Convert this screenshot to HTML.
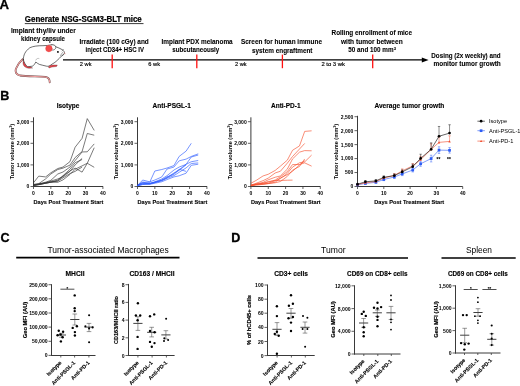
<!DOCTYPE html>
<html><head><meta charset="utf-8"><style>
html,body{margin:0;padding:0;background:#fff;}
svg{display:block;font-family:"Liberation Sans", sans-serif;transform:translateZ(0);will-change:transform;}
</style></head><body>
<svg width="520" height="386" viewBox="0 0 520 386">
<rect width="520" height="386" fill="#fff"/>
<text x="-0.4" y="9.3" font-size="13.2" font-weight="bold" fill="#000" stroke="#000" stroke-width="0.3">A</text>
<text x="24.8" y="22.3" font-size="8.6" font-weight="bold" textLength="117" lengthAdjust="spacingAndGlyphs" fill="#000" stroke="#000" stroke-width="0.22">Generate NSG-SGM3-BLT mice</text>
<line x1="24.8" y1="23.6" x2="143.5" y2="23.6" stroke="#222" stroke-width="0.9"/>
<text x="10.9" y="32.9" font-size="6.6" font-weight="bold" textLength="65" lengthAdjust="spacingAndGlyphs" fill="#000" stroke="#000" stroke-width="0.08">Implant thy/liv under</text>
<text x="21" y="40.6" font-size="6.6" font-weight="bold" textLength="44" lengthAdjust="spacingAndGlyphs" fill="#000" stroke="#000" stroke-width="0.08">kidney capsule</text>
<text x="79.4" y="43.8" font-size="6.6" font-weight="bold" textLength="69.4" lengthAdjust="spacingAndGlyphs" fill="#000" stroke="#000" stroke-width="0.08">Irradiate (100 cGy) and</text>
<text x="85.6" y="52.2" font-size="6.6" font-weight="bold" textLength="58.4" lengthAdjust="spacingAndGlyphs" fill="#000" stroke="#000" stroke-width="0.08">inject CD34+ HSC IV</text>
<text x="161.5" y="43.6" font-size="6.6" font-weight="bold" textLength="71.2" lengthAdjust="spacingAndGlyphs" fill="#000" stroke="#000" stroke-width="0.08">Implant PDX melanoma</text>
<text x="172.2" y="52.3" font-size="6.6" font-weight="bold" textLength="47.1" lengthAdjust="spacingAndGlyphs" fill="#000" stroke="#000" stroke-width="0.08">subcutaneously</text>
<text x="241" y="43.8" font-size="6.6" font-weight="bold" textLength="81" lengthAdjust="spacingAndGlyphs" fill="#000" stroke="#000" stroke-width="0.08">Screen for human immune</text>
<text x="252" y="52.5" font-size="6.6" font-weight="bold" textLength="60.5" lengthAdjust="spacingAndGlyphs" fill="#000" stroke="#000" stroke-width="0.08">system engraftment</text>
<text x="331.5" y="34.5" font-size="6.6" font-weight="bold" textLength="80.5" lengthAdjust="spacingAndGlyphs" fill="#000" stroke="#000" stroke-width="0.08">Rolling enrollment of mice</text>
<text x="341" y="43.6" font-size="6.6" font-weight="bold" textLength="61.7" lengthAdjust="spacingAndGlyphs" fill="#000" stroke="#000" stroke-width="0.08">with tumor between</text>
<text x="348.3" y="51.9" font-size="6.6" font-weight="bold" textLength="45.2" lengthAdjust="spacingAndGlyphs" fill="#000" stroke="#000" stroke-width="0.08">50 and 100 mm</text>
<text x="393.7" y="50.0" font-size="4.2" font-weight="bold" fill="#000" stroke="#000" stroke-width="0.12">3</text>
<text x="431.3" y="57.7" font-size="6.6" font-weight="bold" textLength="69.3" lengthAdjust="spacingAndGlyphs" fill="#000" stroke="#000" stroke-width="0.08">Dosing (2x weekly) and</text>
<text x="433.5" y="66.3" font-size="6.6" font-weight="bold" textLength="67.3" lengthAdjust="spacingAndGlyphs" fill="#000" stroke="#000" stroke-width="0.08">monitor tumor growth</text>
<line x1="63" y1="59.9" x2="425" y2="59.9" stroke="#000" stroke-width="1.2"/>
<path d="M421.8,57.4 L428.6,59.9 L421.8,62.4 Z" fill="#000"/>
<line x1="112.2" y1="54.6" x2="112.2" y2="68.2" stroke="#ff1010" stroke-width="1.3"/>
<line x1="196.8" y1="54.6" x2="196.8" y2="68.2" stroke="#ff1010" stroke-width="1.3"/>
<line x1="282.4" y1="54.6" x2="282.4" y2="68.2" stroke="#ff1010" stroke-width="1.3"/>
<line x1="372.7" y1="54.6" x2="372.7" y2="68.2" stroke="#ff1010" stroke-width="1.3"/>
<text x="85.7" y="66.1" font-size="5.3" text-anchor="middle" textLength="11.7" lengthAdjust="spacingAndGlyphs" fill="#000" stroke="#000" stroke-width="0.15">2 wk</text>
<text x="154.2" y="66.1" font-size="5.3" text-anchor="middle" textLength="11.7" lengthAdjust="spacingAndGlyphs" fill="#000" stroke="#000" stroke-width="0.15">6 wk</text>
<text x="240.8" y="66.1" font-size="5.3" text-anchor="middle" textLength="11.7" lengthAdjust="spacingAndGlyphs" fill="#000" stroke="#000" stroke-width="0.15">2 wk</text>
<text x="333.2" y="65.8" font-size="5.3" text-anchor="middle" textLength="23.5" lengthAdjust="spacingAndGlyphs" fill="#000" stroke="#000" stroke-width="0.15">2 to 3 wk</text>
<g stroke-linejoin="round" stroke-linecap="round">
<path d="M22.7,59.1 C20.5,61 17.5,65 15.8,69 C15,72 16,74.5 20,75.5 C26,76.5 38,76.3 45.4,76.9 C48.5,77.5 49.8,79 49.7,82.3" fill="none" stroke="#6a4a4a" stroke-width="1.8"/>
<path d="M22.7,59.1 C20.5,61 17.5,65 15.8,69 C15,72 16,74.5 20,75.5 C26,76.5 38,76.3 45.4,76.9 C48.5,77.5 49.8,79 49.7,82.3" fill="none" stroke="#f4a0a0" stroke-width="1.05"/>
<path d="M23.3,59.5 C23.5,55 25,51.3 29.9,47.7 C33,46.2 38,45.6 43,45.7 C46,45.8 49,45.2 51.3,44.8 C53.5,45 55,45.8 56,46.8 C58,47.5 60,48.5 62.5,49.8 C63.8,50.8 64.6,52 64.4,53.1 C64,54.5 63,55.3 62,55.5 C60.5,57 58.5,59.5 56.1,61.4 C54.5,62.8 53,63.6 52.5,63.8 L50.1,65.6 C49.5,66.2 47.5,66.4 46.6,66.2 C44,65.6 41.5,65 39.4,64.4 C38,63.8 37,63 35.8,62 C35,63.5 34,65.5 32.3,66.2 L27.5,66.8 C25.5,65 24,62.5 23.3,59.5 Z" fill="#fff" stroke="#111" stroke-width="0.6"/>
<path d="M23.3,60.5 C24,63 25.5,65.5 27.5,66.8 L30.5,67 L32.6,68.1 L29,68.3 C27,68.2 25,67.2 24,66 C23,64.5 22.7,62.5 23.3,60.5 Z" fill="#e8424a" stroke="#3a1a1a" stroke-width="0.3"/>
<path d="M50.1,65.5 L53,65 L57.3,65 L56.5,66.5 L52,67 L49,68 L48.5,67 Z" fill="#e8424a" stroke="#3a1a1a" stroke-width="0.3"/>
<path d="M35.8,60 C36.5,58.5 38,58 39,58.5" fill="none" stroke="#333" stroke-width="0.3"/>
<path d="M51.3,44.8 C53.8,44.5 56,45.5 55.8,47.5 C55.5,49.5 53.5,50.5 52,50" fill="#fff" stroke="#000" stroke-width="0.5"/>
<circle cx="48.9" cy="48.6" r="3.3" fill="#f24c4c" stroke="#e03a3a" stroke-width="0.3"/>
<circle cx="57.9" cy="51.9" r="0.95" fill="#000"/>
<path d="M64.4,53.1 L65.2,53.6" stroke="#d44" stroke-width="0.5"/>
<path d="M60.5,55.5 L62.5,52.5 M61.5,56 L63.5,54.5 M62,51 L63.5,49.5" stroke="#222" stroke-width="0.4"/>
</g>

<text x="0.3" y="99.8" font-size="12.6" font-weight="bold" fill="#000" stroke="#000" stroke-width="0.3">B</text>
<line x1="33.5" y1="117.3" x2="33.5" y2="187.0" stroke="#3a3a3a" stroke-width="1.0"/>
<line x1="33.0" y1="186.5" x2="103.1" y2="186.5" stroke="#3a3a3a" stroke-width="1.0"/>
<line x1="30.5" y1="186.5" x2="33.5" y2="186.5" stroke="#3a3a3a" stroke-width="0.8"/>
<text x="29.3" y="188.4" font-size="5.0" font-weight="bold" text-anchor="end" fill="#000" >0</text>
<line x1="30.5" y1="164.9" x2="33.5" y2="164.9" stroke="#3a3a3a" stroke-width="0.8"/>
<text x="29.3" y="166.8" font-size="5.0" font-weight="bold" text-anchor="end" fill="#000" >1,000</text>
<line x1="30.5" y1="143.3" x2="33.5" y2="143.3" stroke="#3a3a3a" stroke-width="0.8"/>
<text x="29.3" y="145.20000000000002" font-size="5.0" font-weight="bold" text-anchor="end" fill="#000" >2,000</text>
<line x1="30.5" y1="121.69999999999999" x2="33.5" y2="121.69999999999999" stroke="#3a3a3a" stroke-width="0.8"/>
<text x="29.3" y="123.6" font-size="5.0" font-weight="bold" text-anchor="end" fill="#000" >3,000</text>
<line x1="33.5" y1="186.5" x2="33.5" y2="189.0" stroke="#3a3a3a" stroke-width="0.8"/>
<text x="33.5" y="195.1" font-size="5.0" font-weight="bold" text-anchor="middle" fill="#000" >0</text>
<line x1="50.85" y1="186.5" x2="50.85" y2="189.0" stroke="#3a3a3a" stroke-width="0.8"/>
<text x="50.85" y="195.1" font-size="5.0" font-weight="bold" text-anchor="middle" fill="#000" >10</text>
<line x1="68.2" y1="186.5" x2="68.2" y2="189.0" stroke="#3a3a3a" stroke-width="0.8"/>
<text x="68.2" y="195.1" font-size="5.0" font-weight="bold" text-anchor="middle" fill="#000" >20</text>
<line x1="85.55000000000001" y1="186.5" x2="85.55000000000001" y2="189.0" stroke="#3a3a3a" stroke-width="0.8"/>
<text x="85.55000000000001" y="195.1" font-size="5.0" font-weight="bold" text-anchor="middle" fill="#000" >30</text>
<line x1="102.9" y1="186.5" x2="102.9" y2="189.0" stroke="#3a3a3a" stroke-width="0.8"/>
<text x="102.9" y="195.1" font-size="5.0" font-weight="bold" text-anchor="middle" fill="#000" >40</text>
<text x="68.4" y="203.8" font-size="6.1" font-weight="bold" text-anchor="middle" textLength="69.8" lengthAdjust="spacingAndGlyphs" fill="#000" stroke="#000" stroke-width="0.12">Days Post Treatment Start</text>
<text x="68.1" y="108.2" font-size="6.5" font-weight="bold" text-anchor="middle" fill="#000" stroke="#000" stroke-width="0.12">Isotype</text>
<text transform="translate(14.4 151.6) rotate(-90)" font-size="5.3" font-weight="bold" text-anchor="middle" textLength="55.5" lengthAdjust="spacingAndGlyphs">Tumor volume (mm<tspan font-size="3.6" dy="-2">3</tspan><tspan dy="2">)</tspan></text>
<polyline points="33.50,182.83 38.70,176.13 45.65,176.91 50.85,172.78 57.79,168.53 63.00,167.06 69.94,161.66 75.14,147.19 82.08,138.33 87.28,118.61 94.22,130.40" fill="none" stroke="#333" stroke-width="0.65" stroke-linejoin="round"/>
<polyline points="33.50,184.34 38.70,183.69 45.65,178.88 50.85,173.97 57.79,169.52 63.00,168.14 69.94,165.12 75.14,157.56 82.08,151.51 87.28,133.49 94.22,135.20" fill="none" stroke="#333" stroke-width="0.65" stroke-linejoin="round"/>
<polyline points="33.50,184.77 38.70,183.91 45.65,182.18 50.85,180.34 57.79,173.97 63.00,172.01 69.94,167.06 75.14,160.58 82.08,151.94 87.28,151.81 94.22,143.90" fill="none" stroke="#333" stroke-width="0.65" stroke-linejoin="round"/>
<polyline points="33.50,185.20 38.70,184.34 45.65,182.61 50.85,181.86 57.79,180.88 63.00,175.92 69.94,171.01 75.14,168.14 82.08,172.14 87.28,163.30 94.22,147.71" fill="none" stroke="#333" stroke-width="0.65" stroke-linejoin="round"/>
<polyline points="33.50,185.42 38.70,184.56 45.65,183.26 50.85,182.18 57.79,182.31 63.00,179.87 69.94,174.45 75.14,169.22 82.08,165.87 87.28,163.28 94.22,167.30" fill="none" stroke="#333" stroke-width="0.65" stroke-linejoin="round"/>
<polyline points="33.50,184.99 38.70,184.12 45.65,182.83 50.85,181.10 57.79,178.94 63.00,176.78 69.94,171.38 75.14,164.90 82.08,158.42" fill="none" stroke="#333" stroke-width="0.65" stroke-linejoin="round"/>
<polyline points="33.50,185.64 38.70,184.77 45.65,183.26 50.85,182.18 57.79,181.10 63.00,177.86 69.94,173.54 75.14,171.38 82.08,167.06" fill="none" stroke="#333" stroke-width="0.65" stroke-linejoin="round"/>
<polyline points="33.50,185.20 38.70,184.34 45.65,183.26 50.85,182.18 57.79,180.02 63.00,175.70 69.94,169.22 75.14,162.74 82.08,159.50" fill="none" stroke="#333" stroke-width="0.65" stroke-linejoin="round"/>
<line x1="137.5" y1="117.3" x2="137.5" y2="187.0" stroke="#3a3a3a" stroke-width="1.0"/>
<line x1="137.0" y1="186.5" x2="207.1" y2="186.5" stroke="#3a3a3a" stroke-width="1.0"/>
<line x1="134.5" y1="186.5" x2="137.5" y2="186.5" stroke="#3a3a3a" stroke-width="0.8"/>
<text x="133.3" y="188.4" font-size="5.0" font-weight="bold" text-anchor="end" fill="#000" >0</text>
<line x1="134.5" y1="164.9" x2="137.5" y2="164.9" stroke="#3a3a3a" stroke-width="0.8"/>
<text x="133.3" y="166.8" font-size="5.0" font-weight="bold" text-anchor="end" fill="#000" >1,000</text>
<line x1="134.5" y1="143.3" x2="137.5" y2="143.3" stroke="#3a3a3a" stroke-width="0.8"/>
<text x="133.3" y="145.20000000000002" font-size="5.0" font-weight="bold" text-anchor="end" fill="#000" >2,000</text>
<line x1="134.5" y1="121.69999999999999" x2="137.5" y2="121.69999999999999" stroke="#3a3a3a" stroke-width="0.8"/>
<text x="133.3" y="123.6" font-size="5.0" font-weight="bold" text-anchor="end" fill="#000" >3,000</text>
<line x1="137.5" y1="186.5" x2="137.5" y2="189.0" stroke="#3a3a3a" stroke-width="0.8"/>
<text x="137.5" y="195.1" font-size="5.0" font-weight="bold" text-anchor="middle" fill="#000" >0</text>
<line x1="154.85" y1="186.5" x2="154.85" y2="189.0" stroke="#3a3a3a" stroke-width="0.8"/>
<text x="154.85" y="195.1" font-size="5.0" font-weight="bold" text-anchor="middle" fill="#000" >10</text>
<line x1="172.2" y1="186.5" x2="172.2" y2="189.0" stroke="#3a3a3a" stroke-width="0.8"/>
<text x="172.2" y="195.1" font-size="5.0" font-weight="bold" text-anchor="middle" fill="#000" >20</text>
<line x1="189.55" y1="186.5" x2="189.55" y2="189.0" stroke="#3a3a3a" stroke-width="0.8"/>
<text x="189.55" y="195.1" font-size="5.0" font-weight="bold" text-anchor="middle" fill="#000" >30</text>
<line x1="206.9" y1="186.5" x2="206.9" y2="189.0" stroke="#3a3a3a" stroke-width="0.8"/>
<text x="206.9" y="195.1" font-size="5.0" font-weight="bold" text-anchor="middle" fill="#000" >40</text>
<text x="172.4" y="203.8" font-size="6.1" font-weight="bold" text-anchor="middle" textLength="69.8" lengthAdjust="spacingAndGlyphs" fill="#000" stroke="#000" stroke-width="0.12">Days Post Treatment Start</text>
<text x="171.7" y="108.2" font-size="6.5" font-weight="bold" text-anchor="middle" fill="#000" stroke="#000" stroke-width="0.12">Anti-PSGL-1</text>
<text transform="translate(118.4 151.6) rotate(-90)" font-size="5.3" font-weight="bold" text-anchor="middle" textLength="55.5" lengthAdjust="spacingAndGlyphs">Tumor volume (mm<tspan font-size="3.6" dy="-2">3</tspan><tspan dy="2">)</tspan></text>
<polyline points="137.50,185.42 142.71,182.18 149.65,182.33 154.85,170.99 161.79,169.52 167.00,168.03 173.94,165.57 179.14,156.45 186.08,151.14 191.28,143.30" fill="none" stroke="#2f5cff" stroke-width="0.65" stroke-linejoin="round"/>
<polyline points="137.50,185.42 142.71,180.02 149.65,181.83 154.85,180.02 161.79,176.93 167.00,169.05 173.94,167.06 179.14,160.84 186.08,159.11 191.28,156.45 198.22,153.82" fill="none" stroke="#2f5cff" stroke-width="0.65" stroke-linejoin="round"/>
<polyline points="137.50,185.42 142.71,183.26 149.65,183.26 154.85,181.75 161.79,178.94 167.00,175.70 173.94,170.04 179.14,167.06 186.08,164.36 191.28,156.99 198.22,155.05" fill="none" stroke="#2f5cff" stroke-width="0.65" stroke-linejoin="round"/>
<polyline points="137.50,185.64 142.71,183.91 149.65,183.91 154.85,182.61 161.79,180.02 167.00,177.43 173.94,173.00 179.14,169.65 186.08,164.36 191.28,161.72 198.22,160.49" fill="none" stroke="#2f5cff" stroke-width="0.65" stroke-linejoin="round"/>
<polyline points="137.50,185.20 142.71,182.18 149.65,183.69 154.85,182.18 161.79,180.45 167.00,178.29 173.94,175.70 179.14,172.31 186.08,167.90 191.28,163.50 198.22,162.96" fill="none" stroke="#2f5cff" stroke-width="0.65" stroke-linejoin="round"/>
<polyline points="137.50,185.85 142.71,184.34 149.65,184.34 154.85,183.26 161.79,181.75 167.00,179.59 173.94,176.93 179.14,175.81 186.08,173.19 191.28,165.29 198.22,164.25" fill="none" stroke="#2f5cff" stroke-width="0.65" stroke-linejoin="round"/>
<polyline points="137.50,185.42 142.71,183.26 149.65,183.91 154.85,182.61 161.79,180.88 167.00,177.86 173.94,173.54 179.14,170.30 186.08,164.90" fill="none" stroke="#2f5cff" stroke-width="0.65" stroke-linejoin="round"/>
<polyline points="137.50,185.64 142.71,184.56 149.65,183.48 154.85,182.18 161.79,180.02 167.00,176.78 173.94,174.62 179.14,169.22 186.08,171.38" fill="none" stroke="#2f5cff" stroke-width="0.65" stroke-linejoin="round"/>
<line x1="250.9" y1="117.3" x2="250.9" y2="187.0" stroke="#3a3a3a" stroke-width="1.0"/>
<line x1="250.4" y1="186.5" x2="320.5" y2="186.5" stroke="#3a3a3a" stroke-width="1.0"/>
<line x1="247.9" y1="186.5" x2="250.9" y2="186.5" stroke="#3a3a3a" stroke-width="0.8"/>
<text x="246.70000000000002" y="188.4" font-size="5.0" font-weight="bold" text-anchor="end" fill="#000" >0</text>
<line x1="247.9" y1="164.9" x2="250.9" y2="164.9" stroke="#3a3a3a" stroke-width="0.8"/>
<text x="246.70000000000002" y="166.8" font-size="5.0" font-weight="bold" text-anchor="end" fill="#000" >1,000</text>
<line x1="247.9" y1="143.3" x2="250.9" y2="143.3" stroke="#3a3a3a" stroke-width="0.8"/>
<text x="246.70000000000002" y="145.20000000000002" font-size="5.0" font-weight="bold" text-anchor="end" fill="#000" >2,000</text>
<line x1="247.9" y1="121.69999999999999" x2="250.9" y2="121.69999999999999" stroke="#3a3a3a" stroke-width="0.8"/>
<text x="246.70000000000002" y="123.6" font-size="5.0" font-weight="bold" text-anchor="end" fill="#000" >3,000</text>
<line x1="250.9" y1="186.5" x2="250.9" y2="189.0" stroke="#3a3a3a" stroke-width="0.8"/>
<text x="250.9" y="195.1" font-size="5.0" font-weight="bold" text-anchor="middle" fill="#000" >0</text>
<line x1="268.25" y1="186.5" x2="268.25" y2="189.0" stroke="#3a3a3a" stroke-width="0.8"/>
<text x="268.25" y="195.1" font-size="5.0" font-weight="bold" text-anchor="middle" fill="#000" >10</text>
<line x1="285.6" y1="186.5" x2="285.6" y2="189.0" stroke="#3a3a3a" stroke-width="0.8"/>
<text x="285.6" y="195.1" font-size="5.0" font-weight="bold" text-anchor="middle" fill="#000" >20</text>
<line x1="302.95" y1="186.5" x2="302.95" y2="189.0" stroke="#3a3a3a" stroke-width="0.8"/>
<text x="302.95" y="195.1" font-size="5.0" font-weight="bold" text-anchor="middle" fill="#000" >30</text>
<line x1="320.3" y1="186.5" x2="320.3" y2="189.0" stroke="#3a3a3a" stroke-width="0.8"/>
<text x="320.3" y="195.1" font-size="5.0" font-weight="bold" text-anchor="middle" fill="#000" >40</text>
<text x="285.8" y="203.8" font-size="6.1" font-weight="bold" text-anchor="middle" textLength="69.8" lengthAdjust="spacingAndGlyphs" fill="#000" stroke="#000" stroke-width="0.12">Days Post Treatment Start</text>
<text x="285.8" y="108.2" font-size="6.5" font-weight="bold" text-anchor="middle" fill="#000" stroke="#000" stroke-width="0.12">Anti-PD-1</text>
<text transform="translate(231.8 151.6) rotate(-90)" font-size="5.3" font-weight="bold" text-anchor="middle" textLength="55.5" lengthAdjust="spacingAndGlyphs">Tumor volume (mm<tspan font-size="3.6" dy="-2">3</tspan><tspan dy="2">)</tspan></text>
<polyline points="250.90,183.26 256.11,180.45 263.05,175.94 268.25,174.25 275.19,170.41 280.39,166.13 287.34,160.15 292.54,150.28 299.48,145.94 304.69,131.40 311.62,130.82" fill="none" stroke="#f5502e" stroke-width="0.65" stroke-linejoin="round"/>
<polyline points="250.90,185.20 256.11,183.26 263.05,180.67 268.25,178.10 275.19,172.96 280.39,171.25 287.34,163.13 292.54,156.50 299.48,149.05 304.69,143.43" fill="none" stroke="#f5502e" stroke-width="0.65" stroke-linejoin="round"/>
<polyline points="250.90,185.42 256.11,183.91 263.05,182.37 268.25,179.80 275.19,177.23 280.39,175.94 287.34,169.11 292.54,158.94 299.48,152.16 304.69,150.60 311.62,150.80" fill="none" stroke="#f5502e" stroke-width="0.65" stroke-linejoin="round"/>
<polyline points="250.90,185.64 256.11,184.34 263.05,183.22 268.25,181.53 275.19,180.65 280.39,178.53 287.34,173.39 292.54,167.04 299.48,162.74 304.69,161.88 311.62,155.07" fill="none" stroke="#f5502e" stroke-width="0.65" stroke-linejoin="round"/>
<polyline points="250.90,185.42 256.11,184.34 263.05,183.22 268.25,182.18 275.19,180.02 280.39,176.78 287.34,171.60 292.54,164.55 299.48,164.55 304.69,162.85 311.62,166.15" fill="none" stroke="#f5502e" stroke-width="0.65" stroke-linejoin="round"/>
<polyline points="250.90,185.85 256.11,185.20 263.05,184.34 268.25,183.65 275.19,182.78 280.39,181.53 287.34,176.37 292.54,170.15 299.48,166.46 304.69,158.96" fill="none" stroke="#f5502e" stroke-width="0.65" stroke-linejoin="round"/>
<polyline points="250.90,185.42 256.11,184.34 263.05,183.91 268.25,183.26 275.19,180.65 280.39,180.45 287.34,180.21 292.54,180.11" fill="none" stroke="#f5502e" stroke-width="0.65" stroke-linejoin="round"/>
<polyline points="250.90,185.20 256.11,184.56 263.05,184.12 268.25,183.48 275.19,182.18 280.39,178.10 287.34,174.62 292.54,171.38 299.48,164.90 304.69,160.58" fill="none" stroke="#f5502e" stroke-width="0.65" stroke-linejoin="round"/>
<line x1="357.5" y1="115.8" x2="357.5" y2="187.0" stroke="#3a3a3a" stroke-width="1.0"/>
<line x1="357.0" y1="186.5" x2="462.7" y2="186.5" stroke="#3a3a3a" stroke-width="1.0"/>
<line x1="354.5" y1="186.5" x2="357.5" y2="186.5" stroke="#3a3a3a" stroke-width="0.8"/>
<text x="353.3" y="188.4" font-size="5.0" font-weight="bold" text-anchor="end" fill="#000" >0</text>
<line x1="354.5" y1="172.54" x2="357.5" y2="172.54" stroke="#3a3a3a" stroke-width="0.8"/>
<text x="353.3" y="174.44" font-size="5.0" font-weight="bold" text-anchor="end" fill="#000" >500</text>
<line x1="354.5" y1="158.57999999999998" x2="357.5" y2="158.57999999999998" stroke="#3a3a3a" stroke-width="0.8"/>
<text x="353.3" y="160.48" font-size="5.0" font-weight="bold" text-anchor="end" fill="#000" >1,000</text>
<line x1="354.5" y1="144.62" x2="357.5" y2="144.62" stroke="#3a3a3a" stroke-width="0.8"/>
<text x="353.3" y="146.52" font-size="5.0" font-weight="bold" text-anchor="end" fill="#000" >1,500</text>
<line x1="354.5" y1="130.66" x2="357.5" y2="130.66" stroke="#3a3a3a" stroke-width="0.8"/>
<text x="353.3" y="132.56" font-size="5.0" font-weight="bold" text-anchor="end" fill="#000" >2,000</text>
<line x1="354.5" y1="116.7" x2="357.5" y2="116.7" stroke="#3a3a3a" stroke-width="0.8"/>
<text x="353.3" y="118.60000000000001" font-size="5.0" font-weight="bold" text-anchor="end" fill="#000" >2,500</text>
<line x1="357.5" y1="186.5" x2="357.5" y2="189.0" stroke="#3a3a3a" stroke-width="0.8"/>
<text x="357.5" y="195.1" font-size="5.0" font-weight="bold" text-anchor="middle" fill="#000" >0</text>
<line x1="383.8" y1="186.5" x2="383.8" y2="189.0" stroke="#3a3a3a" stroke-width="0.8"/>
<text x="383.8" y="195.1" font-size="5.0" font-weight="bold" text-anchor="middle" fill="#000" >10</text>
<line x1="410.1" y1="186.5" x2="410.1" y2="189.0" stroke="#3a3a3a" stroke-width="0.8"/>
<text x="410.1" y="195.1" font-size="5.0" font-weight="bold" text-anchor="middle" fill="#000" >20</text>
<line x1="436.4" y1="186.5" x2="436.4" y2="189.0" stroke="#3a3a3a" stroke-width="0.8"/>
<text x="436.4" y="195.1" font-size="5.0" font-weight="bold" text-anchor="middle" fill="#000" >30</text>
<line x1="462.7" y1="186.5" x2="462.7" y2="189.0" stroke="#3a3a3a" stroke-width="0.8"/>
<text x="462.7" y="195.1" font-size="5.0" font-weight="bold" text-anchor="middle" fill="#000" >40</text>
<text x="409.2" y="203.8" font-size="6.1" font-weight="bold" text-anchor="middle" textLength="70" lengthAdjust="spacingAndGlyphs" fill="#000" stroke="#000" stroke-width="0.12">Days Post Treatment Start</text>
<text x="409.4" y="107.6" font-size="6.5" font-weight="bold" text-anchor="middle" textLength="70" lengthAdjust="spacingAndGlyphs" fill="#000" stroke="#000" stroke-width="0.12">Average tumor growth</text>
<text transform="translate(338.0 151.6) rotate(-90)" font-size="5.3" font-weight="bold" text-anchor="middle" textLength="55.5" lengthAdjust="spacingAndGlyphs">Tumor volume (mm<tspan font-size="3.6" dy="-2">3</tspan><tspan dy="2">)</tspan></text>
<line x1="357.5" y1="184.8248" x2="357.5" y2="184.2664" stroke="#2d5cf5" stroke-width="0.45"/>
<line x1="356.3" y1="184.2664" x2="358.7" y2="184.2664" stroke="#2d5cf5" stroke-width="0.45"/>
<line x1="357.5" y1="184.8248" x2="357.5" y2="185.3832" stroke="#2d5cf5" stroke-width="0.45"/>
<line x1="356.3" y1="185.3832" x2="358.7" y2="185.3832" stroke="#2d5cf5" stroke-width="0.45"/>
<line x1="365.39" y1="183.4288" x2="365.39" y2="182.5912" stroke="#2d5cf5" stroke-width="0.45"/>
<line x1="364.19" y1="182.5912" x2="366.59" y2="182.5912" stroke="#2d5cf5" stroke-width="0.45"/>
<line x1="365.39" y1="183.4288" x2="365.39" y2="184.2664" stroke="#2d5cf5" stroke-width="0.45"/>
<line x1="364.19" y1="184.2664" x2="366.59" y2="184.2664" stroke="#2d5cf5" stroke-width="0.45"/>
<line x1="375.91" y1="182.312" x2="375.91" y2="181.4744" stroke="#2d5cf5" stroke-width="0.45"/>
<line x1="374.71000000000004" y1="181.4744" x2="377.11" y2="181.4744" stroke="#2d5cf5" stroke-width="0.45"/>
<line x1="375.91" y1="182.312" x2="375.91" y2="183.1496" stroke="#2d5cf5" stroke-width="0.45"/>
<line x1="374.71000000000004" y1="183.1496" x2="377.11" y2="183.1496" stroke="#2d5cf5" stroke-width="0.45"/>
<line x1="383.8" y1="179.52" x2="383.8" y2="178.4032" stroke="#2d5cf5" stroke-width="0.45"/>
<line x1="382.6" y1="178.4032" x2="385.0" y2="178.4032" stroke="#2d5cf5" stroke-width="0.45"/>
<line x1="383.8" y1="179.52" x2="383.8" y2="180.6368" stroke="#2d5cf5" stroke-width="0.45"/>
<line x1="382.6" y1="180.6368" x2="385.0" y2="180.6368" stroke="#2d5cf5" stroke-width="0.45"/>
<line x1="394.32" y1="177.0072" x2="394.32" y2="175.6112" stroke="#2d5cf5" stroke-width="0.45"/>
<line x1="393.12" y1="175.6112" x2="395.52" y2="175.6112" stroke="#2d5cf5" stroke-width="0.45"/>
<line x1="394.32" y1="177.0072" x2="394.32" y2="178.4032" stroke="#2d5cf5" stroke-width="0.45"/>
<line x1="393.12" y1="178.4032" x2="395.52" y2="178.4032" stroke="#2d5cf5" stroke-width="0.45"/>
<line x1="402.21" y1="173.936" x2="402.21" y2="172.2608" stroke="#2d5cf5" stroke-width="0.45"/>
<line x1="401.01" y1="172.2608" x2="403.40999999999997" y2="172.2608" stroke="#2d5cf5" stroke-width="0.45"/>
<line x1="402.21" y1="173.936" x2="402.21" y2="175.6112" stroke="#2d5cf5" stroke-width="0.45"/>
<line x1="401.01" y1="175.6112" x2="403.40999999999997" y2="175.6112" stroke="#2d5cf5" stroke-width="0.45"/>
<line x1="412.73" y1="170.0272" x2="412.73" y2="168.0728" stroke="#2d5cf5" stroke-width="0.45"/>
<line x1="411.53000000000003" y1="168.0728" x2="413.93" y2="168.0728" stroke="#2d5cf5" stroke-width="0.45"/>
<line x1="412.73" y1="170.0272" x2="412.73" y2="171.98160000000001" stroke="#2d5cf5" stroke-width="0.45"/>
<line x1="411.53000000000003" y1="171.98160000000001" x2="413.93" y2="171.98160000000001" stroke="#2d5cf5" stroke-width="0.45"/>
<line x1="420.62" y1="163.80104" x2="420.62" y2="161.28824" stroke="#2d5cf5" stroke-width="0.45"/>
<line x1="419.42" y1="161.28824" x2="421.82" y2="161.28824" stroke="#2d5cf5" stroke-width="0.45"/>
<line x1="420.62" y1="163.80104" x2="420.62" y2="166.31384" stroke="#2d5cf5" stroke-width="0.45"/>
<line x1="419.42" y1="166.31384" x2="421.82" y2="166.31384" stroke="#2d5cf5" stroke-width="0.45"/>
<line x1="431.14" y1="158.57999999999998" x2="431.14" y2="155.2296" stroke="#2d5cf5" stroke-width="0.45"/>
<line x1="429.94" y1="155.2296" x2="432.34" y2="155.2296" stroke="#2d5cf5" stroke-width="0.45"/>
<line x1="431.14" y1="158.57999999999998" x2="431.14" y2="161.9304" stroke="#2d5cf5" stroke-width="0.45"/>
<line x1="429.94" y1="161.9304" x2="432.34" y2="161.9304" stroke="#2d5cf5" stroke-width="0.45"/>
<line x1="439.03" y1="150.12024" x2="439.03" y2="146.76984" stroke="#2d5cf5" stroke-width="0.45"/>
<line x1="437.83" y1="146.76984" x2="440.22999999999996" y2="146.76984" stroke="#2d5cf5" stroke-width="0.45"/>
<line x1="439.03" y1="150.12024" x2="439.03" y2="153.47064" stroke="#2d5cf5" stroke-width="0.45"/>
<line x1="437.83" y1="153.47064" x2="440.22999999999996" y2="153.47064" stroke="#2d5cf5" stroke-width="0.45"/>
<line x1="449.55" y1="150.31568" x2="449.55" y2="147.52368" stroke="#2d5cf5" stroke-width="0.45"/>
<line x1="448.35" y1="147.52368" x2="450.75" y2="147.52368" stroke="#2d5cf5" stroke-width="0.45"/>
<line x1="449.55" y1="150.31568" x2="449.55" y2="153.10768000000002" stroke="#2d5cf5" stroke-width="0.45"/>
<line x1="448.35" y1="153.10768000000002" x2="450.75" y2="153.10768000000002" stroke="#2d5cf5" stroke-width="0.45"/>
<polyline points="357.50,184.82 365.39,183.43 375.91,182.31 383.80,179.52 394.32,177.01 402.21,173.94 412.73,170.03 420.62,163.80 431.14,158.58 439.03,150.12 449.55,150.32" fill="none" stroke="#2d5cf5" stroke-width="0.6"/>
<rect x="356.15" y="183.47" width="2.7" height="2.7" fill="#2d5cf5"/>
<rect x="364.04" y="182.08" width="2.7" height="2.7" fill="#2d5cf5"/>
<rect x="374.56" y="180.96" width="2.7" height="2.7" fill="#2d5cf5"/>
<rect x="382.45" y="178.17" width="2.7" height="2.7" fill="#2d5cf5"/>
<rect x="392.97" y="175.66" width="2.7" height="2.7" fill="#2d5cf5"/>
<rect x="400.86" y="172.59" width="2.7" height="2.7" fill="#2d5cf5"/>
<rect x="411.38" y="168.68" width="2.7" height="2.7" fill="#2d5cf5"/>
<rect x="419.27" y="162.45" width="2.7" height="2.7" fill="#2d5cf5"/>
<rect x="429.79" y="157.23" width="2.7" height="2.7" fill="#2d5cf5"/>
<rect x="437.68" y="148.77" width="2.7" height="2.7" fill="#2d5cf5"/>
<rect x="448.20" y="148.97" width="2.7" height="2.7" fill="#2d5cf5"/>
<line x1="357.5" y1="184.5456" x2="357.5" y2="183.9872" stroke="#f04a2a" stroke-width="0.45"/>
<line x1="356.3" y1="183.9872" x2="358.7" y2="183.9872" stroke="#f04a2a" stroke-width="0.45"/>
<line x1="365.39" y1="182.8704" x2="365.39" y2="182.0328" stroke="#f04a2a" stroke-width="0.45"/>
<line x1="364.19" y1="182.0328" x2="366.59" y2="182.0328" stroke="#f04a2a" stroke-width="0.45"/>
<line x1="375.91" y1="181.4744" x2="375.91" y2="180.6368" stroke="#f04a2a" stroke-width="0.45"/>
<line x1="374.71000000000004" y1="180.6368" x2="377.11" y2="180.6368" stroke="#f04a2a" stroke-width="0.45"/>
<line x1="383.8" y1="178.124" x2="383.8" y2="177.0072" stroke="#f04a2a" stroke-width="0.45"/>
<line x1="382.6" y1="177.0072" x2="385.0" y2="177.0072" stroke="#f04a2a" stroke-width="0.45"/>
<line x1="394.32" y1="175.332" x2="394.32" y2="173.6568" stroke="#f04a2a" stroke-width="0.45"/>
<line x1="393.12" y1="173.6568" x2="395.52" y2="173.6568" stroke="#f04a2a" stroke-width="0.45"/>
<line x1="402.21" y1="170.8648" x2="402.21" y2="168.9104" stroke="#f04a2a" stroke-width="0.45"/>
<line x1="401.01" y1="168.9104" x2="403.40999999999997" y2="168.9104" stroke="#f04a2a" stroke-width="0.45"/>
<line x1="412.73" y1="165.8392" x2="412.73" y2="163.6056" stroke="#f04a2a" stroke-width="0.45"/>
<line x1="411.53000000000003" y1="163.6056" x2="413.93" y2="163.6056" stroke="#f04a2a" stroke-width="0.45"/>
<line x1="420.62" y1="159.6968" x2="420.62" y2="156.3464" stroke="#f04a2a" stroke-width="0.45"/>
<line x1="419.42" y1="156.3464" x2="421.82" y2="156.3464" stroke="#f04a2a" stroke-width="0.45"/>
<line x1="431.14" y1="149.3664" x2="431.14" y2="143.7824" stroke="#f04a2a" stroke-width="0.45"/>
<line x1="429.94" y1="143.7824" x2="432.34" y2="143.7824" stroke="#f04a2a" stroke-width="0.45"/>
<line x1="439.03" y1="142.3864" x2="439.03" y2="136.8024" stroke="#f04a2a" stroke-width="0.45"/>
<line x1="437.83" y1="136.8024" x2="440.22999999999996" y2="136.8024" stroke="#f04a2a" stroke-width="0.45"/>
<line x1="449.55" y1="141.4092" x2="449.55" y2="135.8252" stroke="#f04a2a" stroke-width="0.45"/>
<line x1="448.35" y1="135.8252" x2="450.75" y2="135.8252" stroke="#f04a2a" stroke-width="0.45"/>
<polyline points="357.50,184.55 365.39,182.87 375.91,181.47 383.80,178.12 394.32,175.33 402.21,170.86 412.73,165.84 420.62,159.70 431.14,149.37 439.03,142.39 449.55,141.41" fill="none" stroke="#f04a2a" stroke-width="0.6"/>
<path d="M356.30,185.55 L357.50,183.35 L358.70,185.55 Z" fill="#f04a2a"/>
<path d="M364.19,183.87 L365.39,181.67 L366.59,183.87 Z" fill="#f04a2a"/>
<path d="M374.71,182.47 L375.91,180.27 L377.11,182.47 Z" fill="#f04a2a"/>
<path d="M382.60,179.12 L383.80,176.92 L385.00,179.12 Z" fill="#f04a2a"/>
<path d="M393.12,176.33 L394.32,174.13 L395.52,176.33 Z" fill="#f04a2a"/>
<path d="M401.01,171.86 L402.21,169.66 L403.41,171.86 Z" fill="#f04a2a"/>
<path d="M411.53,166.84 L412.73,164.64 L413.93,166.84 Z" fill="#f04a2a"/>
<path d="M419.42,160.70 L420.62,158.50 L421.82,160.70 Z" fill="#f04a2a"/>
<path d="M429.94,150.37 L431.14,148.17 L432.34,150.37 Z" fill="#f04a2a"/>
<path d="M437.83,143.39 L439.03,141.19 L440.23,143.39 Z" fill="#f04a2a"/>
<path d="M448.35,142.41 L449.55,140.21 L450.75,142.41 Z" fill="#f04a2a"/>
<line x1="357.5" y1="184.2664" x2="357.5" y2="183.4288" stroke="#000" stroke-width="0.45"/>
<line x1="356.3" y1="183.4288" x2="358.7" y2="183.4288" stroke="#000" stroke-width="0.45"/>
<line x1="365.39" y1="181.7536" x2="365.39" y2="180.6368" stroke="#000" stroke-width="0.45"/>
<line x1="364.19" y1="180.6368" x2="366.59" y2="180.6368" stroke="#000" stroke-width="0.45"/>
<line x1="375.91" y1="180.916" x2="375.91" y2="179.7992" stroke="#000" stroke-width="0.45"/>
<line x1="374.71000000000004" y1="179.7992" x2="377.11" y2="179.7992" stroke="#000" stroke-width="0.45"/>
<line x1="383.8" y1="177.28640000000001" x2="383.8" y2="175.8904" stroke="#000" stroke-width="0.45"/>
<line x1="382.6" y1="175.8904" x2="385.0" y2="175.8904" stroke="#000" stroke-width="0.45"/>
<line x1="394.32" y1="175.6112" x2="394.32" y2="173.936" stroke="#000" stroke-width="0.45"/>
<line x1="393.12" y1="173.936" x2="395.52" y2="173.936" stroke="#000" stroke-width="0.45"/>
<line x1="402.21" y1="171.89784" x2="402.21" y2="169.94344" stroke="#000" stroke-width="0.45"/>
<line x1="401.01" y1="169.94344" x2="403.40999999999997" y2="169.94344" stroke="#000" stroke-width="0.45"/>
<line x1="412.73" y1="166.67680000000001" x2="412.73" y2="164.164" stroke="#000" stroke-width="0.45"/>
<line x1="411.53000000000003" y1="164.164" x2="413.93" y2="164.164" stroke="#000" stroke-width="0.45"/>
<line x1="420.62" y1="158.41248" x2="420.62" y2="154.22448" stroke="#000" stroke-width="0.45"/>
<line x1="419.42" y1="154.22448" x2="421.82" y2="154.22448" stroke="#000" stroke-width="0.45"/>
<line x1="431.14" y1="149.31056" x2="431.14" y2="142.88896" stroke="#000" stroke-width="0.45"/>
<line x1="429.94" y1="142.88896" x2="432.34" y2="142.88896" stroke="#000" stroke-width="0.45"/>
<line x1="439.03" y1="136.244" x2="439.03" y2="126.47200000000001" stroke="#000" stroke-width="0.45"/>
<line x1="437.83" y1="126.47200000000001" x2="440.22999999999996" y2="126.47200000000001" stroke="#000" stroke-width="0.45"/>
<line x1="449.55" y1="133.11696" x2="449.55" y2="124.74096" stroke="#000" stroke-width="0.45"/>
<line x1="448.35" y1="124.74096" x2="450.75" y2="124.74096" stroke="#000" stroke-width="0.45"/>
<polyline points="357.50,184.27 365.39,181.75 375.91,180.92 383.80,177.29 394.32,175.61 402.21,171.90 412.73,166.68 420.62,158.41 431.14,149.31 439.03,136.24 449.55,133.12" fill="none" stroke="#000" stroke-width="0.6"/>
<circle cx="357.50" cy="184.27" r="1.35" fill="#000"/>
<circle cx="365.39" cy="181.75" r="1.35" fill="#000"/>
<circle cx="375.91" cy="180.92" r="1.35" fill="#000"/>
<circle cx="383.80" cy="177.29" r="1.35" fill="#000"/>
<circle cx="394.32" cy="175.61" r="1.35" fill="#000"/>
<circle cx="402.21" cy="171.90" r="1.35" fill="#000"/>
<circle cx="412.73" cy="166.68" r="1.35" fill="#000"/>
<circle cx="420.62" cy="158.41" r="1.35" fill="#000"/>
<circle cx="431.14" cy="149.31" r="1.35" fill="#000"/>
<circle cx="439.03" cy="136.24" r="1.35" fill="#000"/>
<circle cx="449.55" cy="133.12" r="1.35" fill="#000"/>
<text x="438.4" y="161.0" font-size="4.6" font-weight="bold" text-anchor="middle" fill="#000" stroke="#000" stroke-width="0.12">**</text>
<text x="448.9" y="161.0" font-size="4.6" font-weight="bold" text-anchor="middle" fill="#000" stroke="#000" stroke-width="0.12">**</text>
<line x1="477.4" y1="121.2" x2="484.9" y2="121.2" stroke="#000" stroke-width="0.6"/>
<circle cx="481.1" cy="121.2" r="1.35" fill="#000"/>
<text x="489" y="123.10000000000001" font-size="5.6" fill="#000">Isotype</text>
<line x1="477.4" y1="130.7" x2="484.9" y2="130.7" stroke="#2d5cf5" stroke-width="0.6"/>
<rect x="479.75" y="129.35" width="2.7" height="2.7" fill="#2d5cf5"/>
<text x="489" y="132.6" font-size="5.6" fill="#000">Anti-PSGL-1</text>
<line x1="477.4" y1="141.1" x2="484.9" y2="141.1" stroke="#f04a2a" stroke-width="0.6"/>
<path d="M478.8,142.1 L480,139.9 L481.2,142.1 Z" fill="#f04a2a" transform="translate(1.1 0)"/>
<text x="489" y="143.0" font-size="5.6" fill="#000">Anti-PD-1</text>
<text x="0.5" y="241.8" font-size="12.6" font-weight="bold" fill="#000" stroke="#000" stroke-width="0.3">C</text>
<text x="231.3" y="241.8" font-size="12.6" font-weight="bold" fill="#000" stroke="#000" stroke-width="0.3">D</text>
<text x="47.5" y="252.6" font-size="8.6" textLength="121.3" lengthAdjust="spacingAndGlyphs" fill="#000">Tumor-associated Macrophages</text>
<line x1="16.2" y1="257.6" x2="179.5" y2="257.6" stroke="#000" stroke-width="1.6"/>
<text x="333.3" y="252.6" font-size="8.6" text-anchor="middle" textLength="24.5" lengthAdjust="spacingAndGlyphs" fill="#000">Tumor</text>
<line x1="257.5" y1="258" x2="408" y2="258" stroke="#000" stroke-width="1.6"/>
<text x="479" y="252.6" font-size="8.6" text-anchor="middle" textLength="26" lengthAdjust="spacingAndGlyphs" fill="#000">Spleen</text>
<line x1="441.5" y1="258" x2="515.7" y2="258" stroke="#000" stroke-width="1.6"/>
<line x1="51.5" y1="284.2" x2="51.5" y2="356.0" stroke="#3a3a3a" stroke-width="1.0"/>
<line x1="51.0" y1="355.5" x2="95.5" y2="355.5" stroke="#3a3a3a" stroke-width="1.0"/>
<line x1="48.5" y1="355.4" x2="51.5" y2="355.4" stroke="#3a3a3a" stroke-width="0.8"/>
<text x="47.6" y="357.4" font-size="5.1" font-weight="bold" text-anchor="end" fill="#000" >0</text>
<line x1="48.5" y1="341.3" x2="51.5" y2="341.3" stroke="#3a3a3a" stroke-width="0.8"/>
<text x="47.6" y="343.3" font-size="5.1" font-weight="bold" text-anchor="end" fill="#000" >50,000</text>
<line x1="48.5" y1="327.1" x2="51.5" y2="327.1" stroke="#3a3a3a" stroke-width="0.8"/>
<text x="47.6" y="329.1" font-size="5.1" font-weight="bold" text-anchor="end" fill="#000" >100,000</text>
<line x1="48.5" y1="313.0" x2="51.5" y2="313.0" stroke="#3a3a3a" stroke-width="0.8"/>
<text x="47.6" y="315.0" font-size="5.1" font-weight="bold" text-anchor="end" fill="#000" >150,000</text>
<line x1="48.5" y1="298.8" x2="51.5" y2="298.8" stroke="#3a3a3a" stroke-width="0.8"/>
<text x="47.6" y="300.8" font-size="5.1" font-weight="bold" text-anchor="end" fill="#000" >200,000</text>
<line x1="48.5" y1="284.7" x2="51.5" y2="284.7" stroke="#3a3a3a" stroke-width="0.8"/>
<text x="47.6" y="286.7" font-size="5.1" font-weight="bold" text-anchor="end" fill="#000" >250,000</text>
<line x1="60.8" y1="355.5" x2="60.8" y2="357.5" stroke="#3a3a3a" stroke-width="0.8"/>
<text transform="translate(61.9 363.1) rotate(-45)" font-size="5.3" font-weight="bold" text-anchor="end" stroke="#000" stroke-width="0.12">Isotype</text>
<line x1="74.6" y1="355.5" x2="74.6" y2="357.5" stroke="#3a3a3a" stroke-width="0.8"/>
<text transform="translate(75.69999999999999 363.1) rotate(-45)" font-size="5.3" font-weight="bold" text-anchor="end" stroke="#000" stroke-width="0.12">Anti-PSGL-1</text>
<line x1="88.9" y1="355.5" x2="88.9" y2="357.5" stroke="#3a3a3a" stroke-width="0.8"/>
<text transform="translate(90.0 363.1) rotate(-45)" font-size="5.3" font-weight="bold" text-anchor="end" stroke="#000" stroke-width="0.12">Anti-PD-1</text>
<text x="75" y="275.7" font-size="6.5" font-weight="bold" text-anchor="middle" textLength="19" lengthAdjust="spacingAndGlyphs" fill="#000" stroke="#000" stroke-width="0.12">MHCII</text>
<text transform="translate(27.0 320) rotate(-90)" font-size="5.5" font-weight="bold" text-anchor="middle" textLength="36.5" lengthAdjust="spacingAndGlyphs" stroke="#000" stroke-width="0.16">Geo MFI (AU)</text>
<line x1="56.8" y1="335.0" x2="66.0" y2="335.0" stroke="#000" stroke-width="0.75"/>
<line x1="61.4" y1="333.3" x2="61.4" y2="337.2" stroke="#444" stroke-width="0.55"/>
<line x1="59.1" y1="333.3" x2="63.699999999999996" y2="333.3" stroke="#444" stroke-width="0.55"/>
<line x1="59.1" y1="337.2" x2="63.699999999999996" y2="337.2" stroke="#444" stroke-width="0.55"/>
<circle cx="58.75" cy="330.8" r="1.2" fill="#000"/>
<circle cx="63.1" cy="331.8" r="1.2" fill="#000"/>
<circle cx="57.6" cy="335.2" r="1.2" fill="#000"/>
<circle cx="62.6" cy="337.2" r="1.2" fill="#000"/>
<circle cx="60.9" cy="341.4" r="1.2" fill="#000"/>
<circle cx="60.5" cy="334.5" r="1.2" fill="#000"/>
<line x1="70.2" y1="319.5" x2="79.39999999999999" y2="319.5" stroke="#000" stroke-width="0.75"/>
<line x1="74.8" y1="314.0" x2="74.8" y2="325.0" stroke="#444" stroke-width="0.55"/>
<line x1="72.5" y1="314.0" x2="77.1" y2="314.0" stroke="#444" stroke-width="0.55"/>
<line x1="72.5" y1="325.0" x2="77.1" y2="325.0" stroke="#444" stroke-width="0.55"/>
<circle cx="74.7" cy="295.4" r="1.2" fill="#000"/>
<circle cx="74.7" cy="308.2" r="1.2" fill="#000"/>
<circle cx="74.7" cy="311.1" r="1.2" fill="#000"/>
<circle cx="72.7" cy="327.9" r="1.2" fill="#000"/>
<circle cx="76.9" cy="326.2" r="1.2" fill="#000"/>
<circle cx="74.9" cy="332.1" r="1.2" fill="#000"/>
<circle cx="74.9" cy="335.5" r="1.2" fill="#000"/>
<line x1="84.4" y1="327.1" x2="93.6" y2="327.1" stroke="#000" stroke-width="0.75"/>
<line x1="89.0" y1="323.4" x2="89.0" y2="331.6" stroke="#444" stroke-width="0.55"/>
<line x1="86.7" y1="323.4" x2="91.3" y2="323.4" stroke="#444" stroke-width="0.55"/>
<line x1="86.7" y1="331.6" x2="91.3" y2="331.6" stroke="#444" stroke-width="0.55"/>
<circle cx="89.1" cy="315.3" r="1.05" fill="#000"/>
<circle cx="85.4" cy="326.2" r="1.05" fill="#000"/>
<circle cx="92.6" cy="327.4" r="1.05" fill="#000"/>
<circle cx="89.1" cy="328.4" r="1.05" fill="#000"/>
<circle cx="89.1" cy="342.2" r="1.05" fill="#000"/>
<line x1="60.4" y1="289.2" x2="74.4" y2="289.2" stroke="#000" stroke-width="0.7"/>
<text x="67.4" y="289.5" font-size="4.2" font-weight="bold" text-anchor="middle" fill="#000" stroke="#000" stroke-width="0.12">*</text>
<line x1="128.5" y1="283.9" x2="128.5" y2="356.0" stroke="#3a3a3a" stroke-width="1.0"/>
<line x1="128.0" y1="355.5" x2="174.6" y2="355.5" stroke="#3a3a3a" stroke-width="1.0"/>
<line x1="125.5" y1="355.5" x2="128.5" y2="355.5" stroke="#3a3a3a" stroke-width="0.8"/>
<text x="124.6" y="357.5" font-size="5.1" font-weight="bold" text-anchor="end" fill="#000" >0</text>
<line x1="125.5" y1="337.8" x2="128.5" y2="337.8" stroke="#3a3a3a" stroke-width="0.8"/>
<text x="124.6" y="339.8" font-size="5.1" font-weight="bold" text-anchor="end" fill="#000" >2</text>
<line x1="125.5" y1="320.1" x2="128.5" y2="320.1" stroke="#3a3a3a" stroke-width="0.8"/>
<text x="124.6" y="322.1" font-size="5.1" font-weight="bold" text-anchor="end" fill="#000" >4</text>
<line x1="125.5" y1="302.4" x2="128.5" y2="302.4" stroke="#3a3a3a" stroke-width="0.8"/>
<text x="124.6" y="304.4" font-size="5.1" font-weight="bold" text-anchor="end" fill="#000" >6</text>
<line x1="125.5" y1="284.7" x2="128.5" y2="284.7" stroke="#3a3a3a" stroke-width="0.8"/>
<text x="124.6" y="286.7" font-size="5.1" font-weight="bold" text-anchor="end" fill="#000" >8</text>
<line x1="137.9" y1="355.5" x2="137.9" y2="357.5" stroke="#3a3a3a" stroke-width="0.8"/>
<text transform="translate(139.0 363.1) rotate(-45)" font-size="5.3" font-weight="bold" text-anchor="end" stroke="#000" stroke-width="0.12">Isotype</text>
<line x1="152.1" y1="355.5" x2="152.1" y2="357.5" stroke="#3a3a3a" stroke-width="0.8"/>
<text transform="translate(153.2 363.1) rotate(-45)" font-size="5.3" font-weight="bold" text-anchor="end" stroke="#000" stroke-width="0.12">Anti-PSGL-1</text>
<line x1="166.4" y1="355.5" x2="166.4" y2="357.5" stroke="#3a3a3a" stroke-width="0.8"/>
<text transform="translate(167.5 363.1) rotate(-45)" font-size="5.3" font-weight="bold" text-anchor="end" stroke="#000" stroke-width="0.12">Anti-PD-1</text>
<text x="152" y="275.7" font-size="6.5" font-weight="bold" text-anchor="middle" textLength="45" lengthAdjust="spacingAndGlyphs" fill="#000" stroke="#000" stroke-width="0.12">CD163 / MHCII</text>
<text transform="translate(118.39999999999999 320) rotate(-90)" font-size="5.5" font-weight="bold" text-anchor="middle" textLength="48" lengthAdjust="spacingAndGlyphs" stroke="#000" stroke-width="0.16">CD163/MHCII ratio</text>
<line x1="133.3" y1="323.4" x2="142.5" y2="323.4" stroke="#000" stroke-width="0.75"/>
<line x1="137.9" y1="316.7" x2="137.9" y2="330.4" stroke="#444" stroke-width="0.55"/>
<line x1="135.6" y1="316.7" x2="140.20000000000002" y2="316.7" stroke="#444" stroke-width="0.55"/>
<line x1="135.6" y1="330.4" x2="140.20000000000002" y2="330.4" stroke="#444" stroke-width="0.55"/>
<circle cx="137.9" cy="303.2" r="1.2" fill="#000"/>
<circle cx="135.9" cy="315.5" r="1.2" fill="#000"/>
<circle cx="140.2" cy="315.5" r="1.2" fill="#000"/>
<circle cx="137.6" cy="320.2" r="1.2" fill="#000"/>
<circle cx="137.6" cy="336.9" r="1.2" fill="#000"/>
<circle cx="137.6" cy="348.9" r="1.2" fill="#000"/>
<line x1="147.1" y1="332.3" x2="156.29999999999998" y2="332.3" stroke="#000" stroke-width="0.75"/>
<line x1="151.7" y1="327.3" x2="151.7" y2="336.9" stroke="#444" stroke-width="0.55"/>
<line x1="149.39999999999998" y1="327.3" x2="154.0" y2="327.3" stroke="#444" stroke-width="0.55"/>
<line x1="149.39999999999998" y1="336.9" x2="154.0" y2="336.9" stroke="#444" stroke-width="0.55"/>
<circle cx="150" cy="316.3" r="1.2" fill="#000"/>
<circle cx="154.2" cy="314.4" r="1.2" fill="#000"/>
<circle cx="150" cy="331" r="1.2" fill="#000"/>
<circle cx="154.6" cy="332.3" r="1.2" fill="#000"/>
<circle cx="150" cy="341.9" r="1.2" fill="#000"/>
<circle cx="154.5" cy="343.1" r="1.2" fill="#000"/>
<circle cx="151.8" cy="346.7" r="1.2" fill="#000"/>
<line x1="161.3" y1="334.9" x2="170.5" y2="334.9" stroke="#000" stroke-width="0.75"/>
<line x1="165.9" y1="330.7" x2="165.9" y2="339.0" stroke="#444" stroke-width="0.55"/>
<line x1="163.6" y1="330.7" x2="168.20000000000002" y2="330.7" stroke="#444" stroke-width="0.55"/>
<line x1="163.6" y1="339.0" x2="168.20000000000002" y2="339.0" stroke="#444" stroke-width="0.55"/>
<circle cx="166.1" cy="318.8" r="1.0" fill="#000"/>
<circle cx="164.3" cy="338.2" r="1.0" fill="#000"/>
<circle cx="168.1" cy="340" r="1.0" fill="#000"/>
<circle cx="164" cy="341.1" r="1.0" fill="#000"/>
<line x1="267.5" y1="284.5" x2="267.5" y2="356.0" stroke="#3a3a3a" stroke-width="1.0"/>
<line x1="267.0" y1="355.5" x2="314.7" y2="355.5" stroke="#3a3a3a" stroke-width="1.0"/>
<line x1="264.5" y1="355.6" x2="267.5" y2="355.6" stroke="#3a3a3a" stroke-width="0.8"/>
<text x="263.6" y="357.6" font-size="5.1" font-weight="bold" text-anchor="end" fill="#000" >0</text>
<line x1="264.5" y1="341.5" x2="267.5" y2="341.5" stroke="#3a3a3a" stroke-width="0.8"/>
<text x="263.6" y="343.5" font-size="5.1" font-weight="bold" text-anchor="end" fill="#000" >20</text>
<line x1="264.5" y1="327.4" x2="267.5" y2="327.4" stroke="#3a3a3a" stroke-width="0.8"/>
<text x="263.6" y="329.4" font-size="5.1" font-weight="bold" text-anchor="end" fill="#000" >40</text>
<line x1="264.5" y1="313.2" x2="267.5" y2="313.2" stroke="#3a3a3a" stroke-width="0.8"/>
<text x="263.6" y="315.2" font-size="5.1" font-weight="bold" text-anchor="end" fill="#000" >60</text>
<line x1="264.5" y1="299.2" x2="267.5" y2="299.2" stroke="#3a3a3a" stroke-width="0.8"/>
<text x="263.6" y="301.2" font-size="5.1" font-weight="bold" text-anchor="end" fill="#000" >80</text>
<line x1="264.5" y1="285.0" x2="267.5" y2="285.0" stroke="#3a3a3a" stroke-width="0.8"/>
<text x="263.6" y="287.0" font-size="5.1" font-weight="bold" text-anchor="end" fill="#000" >100</text>
<line x1="277.1" y1="355.5" x2="277.1" y2="357.5" stroke="#3a3a3a" stroke-width="0.8"/>
<text transform="translate(278.20000000000005 363.1) rotate(-45)" font-size="5.3" font-weight="bold" text-anchor="end" stroke="#000" stroke-width="0.12">Isotype</text>
<line x1="291.4" y1="355.5" x2="291.4" y2="357.5" stroke="#3a3a3a" stroke-width="0.8"/>
<text transform="translate(292.5 363.1) rotate(-45)" font-size="5.3" font-weight="bold" text-anchor="end" stroke="#000" stroke-width="0.12">Anti-PSGL-1</text>
<line x1="305.3" y1="355.5" x2="305.3" y2="357.5" stroke="#3a3a3a" stroke-width="0.8"/>
<text transform="translate(306.40000000000003 363.1) rotate(-45)" font-size="5.3" font-weight="bold" text-anchor="end" stroke="#000" stroke-width="0.12">Anti-PD-1</text>
<text x="291.1" y="275.7" font-size="6.5" font-weight="bold" text-anchor="middle" textLength="33.8" lengthAdjust="spacingAndGlyphs" fill="#000" stroke="#000" stroke-width="0.12">CD3+ cells</text>
<text transform="translate(251.1 320) rotate(-90)" font-size="5.5" font-weight="bold" text-anchor="middle" textLength="50" lengthAdjust="spacingAndGlyphs" stroke="#000" stroke-width="0.16">% of hCD45+ cells</text>
<line x1="272.4" y1="329.3" x2="281.6" y2="329.3" stroke="#000" stroke-width="0.75"/>
<line x1="277.0" y1="322.6" x2="277.0" y2="335.4" stroke="#444" stroke-width="0.55"/>
<line x1="274.7" y1="322.6" x2="279.3" y2="322.6" stroke="#444" stroke-width="0.55"/>
<line x1="274.7" y1="335.4" x2="279.3" y2="335.4" stroke="#444" stroke-width="0.55"/>
<circle cx="276.9" cy="306.2" r="1.2" fill="#000"/>
<circle cx="276.9" cy="316.1" r="1.2" fill="#000"/>
<circle cx="276.9" cy="331.7" r="1.2" fill="#000"/>
<circle cx="274.8" cy="334" r="1.2" fill="#000"/>
<circle cx="278.7" cy="335.8" r="1.2" fill="#000"/>
<circle cx="276.9" cy="353.7" r="1.2" fill="#000"/>
<line x1="286.4" y1="313.2" x2="295.6" y2="313.2" stroke="#000" stroke-width="0.75"/>
<line x1="291.0" y1="308.5" x2="291.0" y2="318.2" stroke="#444" stroke-width="0.55"/>
<line x1="288.7" y1="308.5" x2="293.3" y2="308.5" stroke="#444" stroke-width="0.55"/>
<line x1="288.7" y1="318.2" x2="293.3" y2="318.2" stroke="#444" stroke-width="0.55"/>
<circle cx="291" cy="295.3" r="1.2" fill="#000"/>
<circle cx="288.9" cy="305.8" r="1.2" fill="#000"/>
<circle cx="292.9" cy="303.7" r="1.2" fill="#000"/>
<circle cx="288.5" cy="318.2" r="1.2" fill="#000"/>
<circle cx="292.9" cy="316.9" r="1.2" fill="#000"/>
<circle cx="291" cy="322.6" r="1.2" fill="#000"/>
<circle cx="291" cy="331" r="1.2" fill="#000"/>
<line x1="300.4" y1="327.3" x2="309.6" y2="327.3" stroke="#000" stroke-width="0.75"/>
<line x1="305.0" y1="322.0" x2="305.0" y2="333.1" stroke="#444" stroke-width="0.55"/>
<line x1="302.7" y1="322.0" x2="307.3" y2="322.0" stroke="#444" stroke-width="0.55"/>
<line x1="302.7" y1="333.1" x2="307.3" y2="333.1" stroke="#444" stroke-width="0.55"/>
<circle cx="303" cy="316.1" r="1.0" fill="#000"/>
<circle cx="307.4" cy="317.8" r="1.0" fill="#000"/>
<circle cx="302.6" cy="329.1" r="1.0" fill="#000"/>
<circle cx="307.4" cy="329.1" r="1.0" fill="#000"/>
<circle cx="305.1" cy="346.7" r="1.0" fill="#000"/>
<line x1="354.5" y1="285.3" x2="354.5" y2="354.5" stroke="#3a3a3a" stroke-width="1.0"/>
<line x1="354.0" y1="354.0" x2="400.5" y2="354.0" stroke="#3a3a3a" stroke-width="1.0"/>
<line x1="351.5" y1="354.0" x2="354.5" y2="354.0" stroke="#3a3a3a" stroke-width="0.8"/>
<text x="350.6" y="356.0" font-size="5.1" font-weight="bold" text-anchor="end" fill="#000" >0</text>
<line x1="351.5" y1="331.3" x2="354.5" y2="331.3" stroke="#3a3a3a" stroke-width="0.8"/>
<text x="350.6" y="333.3" font-size="5.1" font-weight="bold" text-anchor="end" fill="#000" >4,000</text>
<line x1="351.5" y1="308.6" x2="354.5" y2="308.6" stroke="#3a3a3a" stroke-width="0.8"/>
<text x="350.6" y="310.6" font-size="5.1" font-weight="bold" text-anchor="end" fill="#000" >8,000</text>
<line x1="351.5" y1="285.8" x2="354.5" y2="285.8" stroke="#3a3a3a" stroke-width="0.8"/>
<text x="350.6" y="287.8" font-size="5.1" font-weight="bold" text-anchor="end" fill="#000" >12,000</text>
<line x1="363.8" y1="354.0" x2="363.8" y2="356.0" stroke="#3a3a3a" stroke-width="0.8"/>
<text transform="translate(364.90000000000003 361.6) rotate(-45)" font-size="5.3" font-weight="bold" text-anchor="end" stroke="#000" stroke-width="0.12">Isotype</text>
<line x1="377.8" y1="354.0" x2="377.8" y2="356.0" stroke="#3a3a3a" stroke-width="0.8"/>
<text transform="translate(378.90000000000003 361.6) rotate(-45)" font-size="5.3" font-weight="bold" text-anchor="end" stroke="#000" stroke-width="0.12">Anti-PSGL-1</text>
<line x1="391.3" y1="354.0" x2="391.3" y2="356.0" stroke="#3a3a3a" stroke-width="0.8"/>
<text transform="translate(392.40000000000003 361.6) rotate(-45)" font-size="5.3" font-weight="bold" text-anchor="end" stroke="#000" stroke-width="0.12">Anti-PD-1</text>
<text x="377.3" y="275.7" font-size="6.5" font-weight="bold" text-anchor="middle" textLength="60.4" lengthAdjust="spacingAndGlyphs" fill="#000" stroke="#000" stroke-width="0.12">CD69 on CD8+ cells</text>
<text transform="translate(335.3 319.5) rotate(-90)" font-size="5.5" font-weight="bold" text-anchor="middle" textLength="36.5" lengthAdjust="spacingAndGlyphs" stroke="#000" stroke-width="0.16">Geo MFI (AU)</text>
<line x1="359.0" y1="323.0" x2="368.20000000000005" y2="323.0" stroke="#000" stroke-width="0.75"/>
<line x1="363.6" y1="318.5" x2="363.6" y2="327.3" stroke="#444" stroke-width="0.55"/>
<line x1="361.3" y1="318.5" x2="365.90000000000003" y2="318.5" stroke="#444" stroke-width="0.55"/>
<line x1="361.3" y1="327.3" x2="365.90000000000003" y2="327.3" stroke="#444" stroke-width="0.55"/>
<circle cx="363.7" cy="311.7" r="1.2" fill="#000"/>
<circle cx="361.8" cy="313.9" r="1.2" fill="#000"/>
<circle cx="365.8" cy="315.9" r="1.2" fill="#000"/>
<circle cx="363.7" cy="327.3" r="1.2" fill="#000"/>
<circle cx="363.7" cy="332.3" r="1.2" fill="#000"/>
<circle cx="363.7" cy="336.3" r="1.2" fill="#000"/>
<line x1="372.7" y1="312.8" x2="381.90000000000003" y2="312.8" stroke="#000" stroke-width="0.75"/>
<line x1="377.3" y1="310.0" x2="377.3" y2="316.4" stroke="#444" stroke-width="0.55"/>
<line x1="375.0" y1="310.0" x2="379.6" y2="310.0" stroke="#444" stroke-width="0.55"/>
<line x1="375.0" y1="316.4" x2="379.6" y2="316.4" stroke="#444" stroke-width="0.55"/>
<circle cx="377.5" cy="302.8" r="1.2" fill="#000"/>
<circle cx="374" cy="307.8" r="1.2" fill="#000"/>
<circle cx="377.5" cy="308.5" r="1.2" fill="#000"/>
<circle cx="381.1" cy="307.1" r="1.2" fill="#000"/>
<circle cx="377.5" cy="316.8" r="1.2" fill="#000"/>
<circle cx="377.5" cy="319.9" r="1.2" fill="#000"/>
<circle cx="377.5" cy="326.3" r="1.2" fill="#000"/>
<line x1="386.4" y1="312.8" x2="395.6" y2="312.8" stroke="#000" stroke-width="0.75"/>
<line x1="391.0" y1="306.4" x2="391.0" y2="319.5" stroke="#444" stroke-width="0.55"/>
<line x1="388.7" y1="306.4" x2="393.3" y2="306.4" stroke="#444" stroke-width="0.55"/>
<line x1="388.7" y1="319.5" x2="393.3" y2="319.5" stroke="#444" stroke-width="0.55"/>
<circle cx="391" cy="295.4" r="0.9" fill="#000"/>
<circle cx="391" cy="300" r="0.9" fill="#000"/>
<circle cx="391" cy="319.5" r="0.9" fill="#000"/>
<circle cx="391" cy="322.3" r="0.9" fill="#000"/>
<circle cx="391" cy="329.6" r="0.9" fill="#000"/>
<line x1="455.5" y1="285.3" x2="455.5" y2="353.5" stroke="#3a3a3a" stroke-width="1.0"/>
<line x1="455.0" y1="353.0" x2="500.5" y2="353.0" stroke="#3a3a3a" stroke-width="1.0"/>
<line x1="452.5" y1="353.0" x2="455.5" y2="353.0" stroke="#3a3a3a" stroke-width="0.8"/>
<text x="451.6" y="355.0" font-size="5.1" font-weight="bold" text-anchor="end" fill="#000" >0</text>
<line x1="452.5" y1="330.6" x2="455.5" y2="330.6" stroke="#3a3a3a" stroke-width="0.8"/>
<text x="451.6" y="332.6" font-size="5.1" font-weight="bold" text-anchor="end" fill="#000" >500</text>
<line x1="452.5" y1="308.2" x2="455.5" y2="308.2" stroke="#3a3a3a" stroke-width="0.8"/>
<text x="451.6" y="310.2" font-size="5.1" font-weight="bold" text-anchor="end" fill="#000" >1,000</text>
<line x1="452.5" y1="285.8" x2="455.5" y2="285.8" stroke="#3a3a3a" stroke-width="0.8"/>
<text x="451.6" y="287.8" font-size="5.1" font-weight="bold" text-anchor="end" fill="#000" >1,500</text>
<line x1="464.5" y1="353.0" x2="464.5" y2="355.0" stroke="#3a3a3a" stroke-width="0.8"/>
<text transform="translate(465.6 360.6) rotate(-45)" font-size="5.3" font-weight="bold" text-anchor="end" stroke="#000" stroke-width="0.12">Isotype</text>
<line x1="477.8" y1="353.0" x2="477.8" y2="355.0" stroke="#3a3a3a" stroke-width="0.8"/>
<text transform="translate(478.90000000000003 360.6) rotate(-45)" font-size="5.3" font-weight="bold" text-anchor="end" stroke="#000" stroke-width="0.12">Anti-PSGL-1</text>
<line x1="491.3" y1="353.0" x2="491.3" y2="355.0" stroke="#3a3a3a" stroke-width="0.8"/>
<text transform="translate(492.40000000000003 360.6) rotate(-45)" font-size="5.3" font-weight="bold" text-anchor="end" stroke="#000" stroke-width="0.12">Anti-PD-1</text>
<text x="477.9" y="275.7" font-size="6.5" font-weight="bold" text-anchor="middle" textLength="60" lengthAdjust="spacingAndGlyphs" fill="#000" stroke="#000" stroke-width="0.12">CD69 on CD8+ cells</text>
<text transform="translate(438.1 319.5) rotate(-90)" font-size="5.5" font-weight="bold" text-anchor="middle" textLength="36.5" lengthAdjust="spacingAndGlyphs" stroke="#000" stroke-width="0.16">Geo MFI (AU)</text>
<line x1="460.09999999999997" y1="335.2" x2="469.3" y2="335.2" stroke="#000" stroke-width="0.75"/>
<line x1="464.7" y1="328.3" x2="464.7" y2="342.7" stroke="#444" stroke-width="0.55"/>
<line x1="462.4" y1="328.3" x2="467.0" y2="328.3" stroke="#444" stroke-width="0.55"/>
<line x1="462.4" y1="342.7" x2="467.0" y2="342.7" stroke="#444" stroke-width="0.55"/>
<circle cx="463" cy="315.1" r="1.2" fill="#000"/>
<circle cx="466.7" cy="315.1" r="1.2" fill="#000"/>
<circle cx="461.1" cy="343.1" r="1.2" fill="#000"/>
<circle cx="464.8" cy="344.2" r="1.2" fill="#000"/>
<circle cx="468.6" cy="343.6" r="1.2" fill="#000"/>
<circle cx="464.3" cy="349.6" r="1.2" fill="#000"/>
<line x1="473.4" y1="312.5" x2="482.6" y2="312.5" stroke="#000" stroke-width="0.75"/>
<line x1="478.0" y1="308.7" x2="478.0" y2="316.2" stroke="#444" stroke-width="0.55"/>
<line x1="475.7" y1="308.7" x2="480.3" y2="308.7" stroke="#444" stroke-width="0.55"/>
<line x1="475.7" y1="316.2" x2="480.3" y2="316.2" stroke="#444" stroke-width="0.55"/>
<circle cx="477.9" cy="297.6" r="0.9" fill="#000"/>
<circle cx="477.9" cy="302.2" r="0.9" fill="#000"/>
<circle cx="474.9" cy="316.2" r="0.9" fill="#000"/>
<circle cx="480.1" cy="316.2" r="0.9" fill="#000"/>
<circle cx="477.9" cy="320.3" r="0.9" fill="#000"/>
<circle cx="477.9" cy="323.1" r="0.9" fill="#000"/>
<line x1="487.2" y1="339.3" x2="496.40000000000003" y2="339.3" stroke="#000" stroke-width="0.75"/>
<line x1="491.8" y1="333.7" x2="491.8" y2="345.1" stroke="#444" stroke-width="0.55"/>
<line x1="489.5" y1="333.7" x2="494.1" y2="333.7" stroke="#444" stroke-width="0.55"/>
<line x1="489.5" y1="345.1" x2="494.1" y2="345.1" stroke="#444" stroke-width="0.55"/>
<circle cx="491.7" cy="325.5" r="1.05" fill="#000"/>
<circle cx="491.7" cy="333.7" r="1.05" fill="#000"/>
<circle cx="491.7" cy="338.6" r="1.05" fill="#000"/>
<circle cx="491.7" cy="345.1" r="1.05" fill="#000"/>
<line x1="463.7" y1="289.5" x2="477.7" y2="289.5" stroke="#000" stroke-width="0.7"/>
<text x="470.7" y="289.8" font-size="4.2" font-weight="bold" text-anchor="middle" fill="#000" stroke="#000" stroke-width="0.12">*</text>
<line x1="482.4" y1="289.5" x2="496.5" y2="289.5" stroke="#000" stroke-width="0.7"/>
<text x="489.45" y="289.8" font-size="4.2" font-weight="bold" text-anchor="middle" fill="#000" stroke="#000" stroke-width="0.12">**</text>
</svg></body></html>
